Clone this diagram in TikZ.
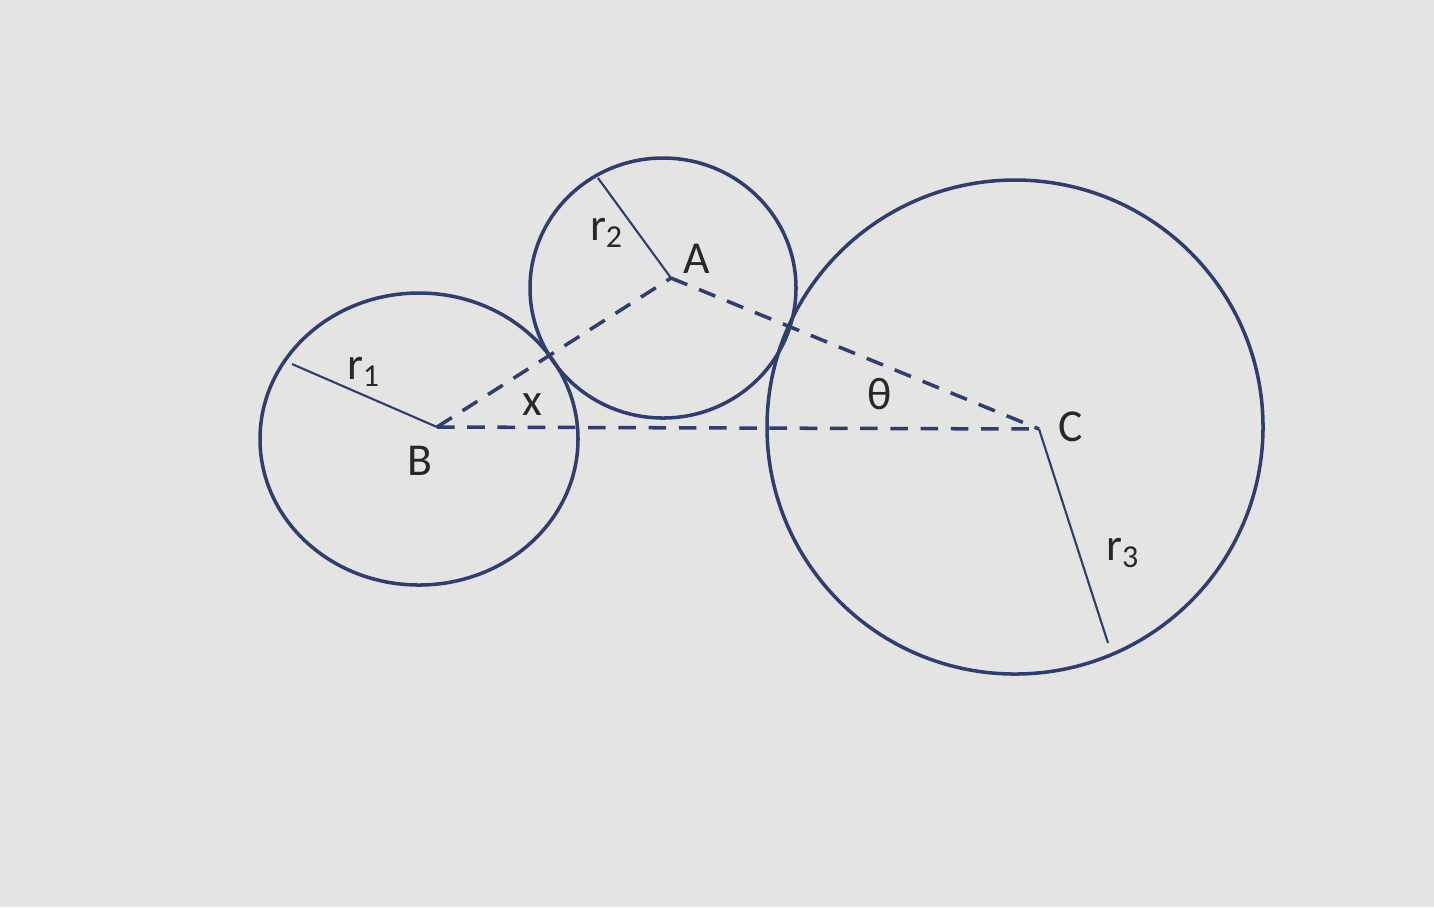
\documentclass[tikz,border=0pt]{standalone}
\usepackage{fontspec}
\setmainfont{Carlito}
\usepackage{tikz}
\usetikzlibrary{positioning}

\definecolor{paper}{RGB}{228,228,226}
\definecolor{navy}{RGB}{47,62,112}
\definecolor{ink}{RGB}{40,40,44}

\begin{document}
\begin{tikzpicture}[x=0.1mm, y=-0.1mm,
  rim/.style={draw=navy, line width=1pt},
  spoke/.style={draw=navy, line width=0.6pt},
  link/.style={draw=navy, line width=1pt, dash pattern=on 5pt off 3.6pt},
  lbl/.style={text=ink, inner sep=0pt, font=\fontsize{13}{15}\selectfont}]
\fill[paper] (0,0) rectangle (1434,907);
% centres and radius ends
\coordinate (B) at (437,427);
\coordinate (A) at (671,278);
\coordinate (C) at (1039,429);
\coordinate (r1end) at (292,364);
\coordinate (r2end) at (598,178);
\coordinate (r3end) at (1108,643);
% circles
\draw[rim] (419,439) ellipse [x radius=159, y radius=146];
\draw[rim] (663,288) ellipse [x radius=133, y radius=130];
\draw[rim] (1015,427) ellipse [x radius=248, y radius=247];
% radii
\draw[spoke] (B) -- (r1end);
\draw[spoke] (A) -- (r2end);
\draw[spoke] (C) -- (r3end);
% triangle
\draw[link] (B) -- (A);
\draw[link] (A) -- (C);
\draw[link] (B) -- (C);
% labels
\node[lbl] (labB) at (420,461) {B};
\node[lbl] (labA) at (697,259) {A};
\node[lbl] (labC) at (1071,427) {C};
\node[lbl] (labX) at (532,405) {x};
\node[lbl] (labT) at (880,394) {θ};
\node[lbl] (labR1) at (364,372) {r\textsubscript{1}};
\node[lbl] (labR2) at (607,233) {r\textsubscript{2}};
\node[lbl] (labR3) at (1123,553) {r\textsubscript{3}};
\end{tikzpicture}
\end{document}
